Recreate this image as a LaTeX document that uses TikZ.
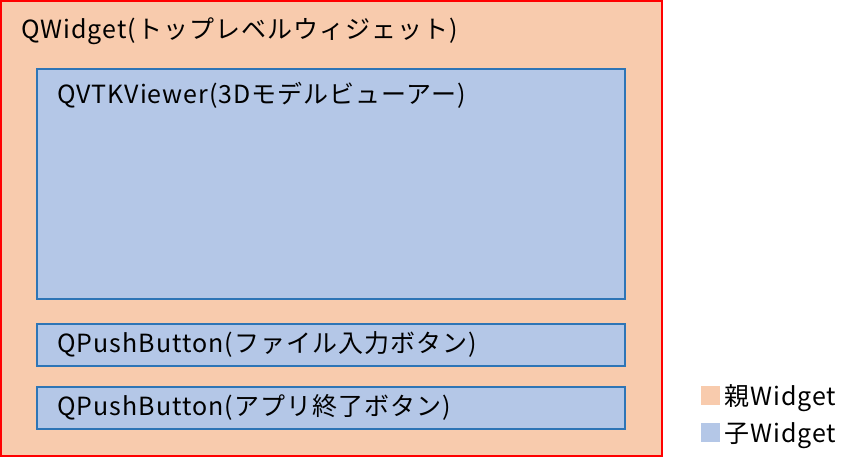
\documentclass[tikz,border=0pt]{standalone}
\usepackage{fontspec}
\setmainfont{Noto Sans CJK JP}
\newfontfamily\lblfont[LetterSpace=4]{Noto Sans CJK JP}
\definecolor{parentc}{HTML}{F8CBAD}
\definecolor{childc}{HTML}{B4C7E7}
\definecolor{childb}{HTML}{2E75B6}
\begin{document}
\begin{tikzpicture}[x=1pt,y=-1pt,
  box/.style={anchor=north west,inner sep=0pt,outer sep=0pt},
  parentbox/.style={box,draw=red,fill=parentc,line width=1.3pt},
  childbox/.style={box,draw=childb,fill=childc,line width=1.1pt},
  lbl/.style={anchor=base west,inner sep=0pt,font=\lblfont\fontsize{25}{29}\selectfont},
  legsq/.style={box,minimum width=19pt,minimum height=19pt}]
\useasboundingbox (0,0) rectangle (851,467);
\fill[white] (0,0) rectangle (851,467);
\node[parentbox,minimum width=661pt,minimum height=455pt] (top) at (1,1) {};
\node[childbox,minimum width=588pt,minimum height=230pt] (viewer) at (37,69) {};
\node[childbox,minimum width=588pt,minimum height=42pt] (btn1) at (37,324) {};
\node[childbox,minimum width=588pt,minimum height=42pt] (btn2) at (37,387) {};
\node[lbl] (ttop) at (21,38) {QWidget(トップレベルウィジェット)};
\node[lbl] (tviewer) at (57,103) {QVTKViewer(3Dモデルビューアー)};
\node[lbl] (tbtn1) at (57,352) {QPushButton(ファイル入力ボタン)};
\node[lbl] (tbtn2) at (57,415) {QPushButton(アプリ終了ボタン)};
\node[legsq,fill=parentc] (sq1) at (701,386) {};
\node[legsq,fill=childc] (sq2) at (701,423) {};
\node[lbl] (leg1) at (724,405) {親Widget};
\node[lbl] (leg2) at (724,442) {子Widget};
\end{tikzpicture}
\end{document}
